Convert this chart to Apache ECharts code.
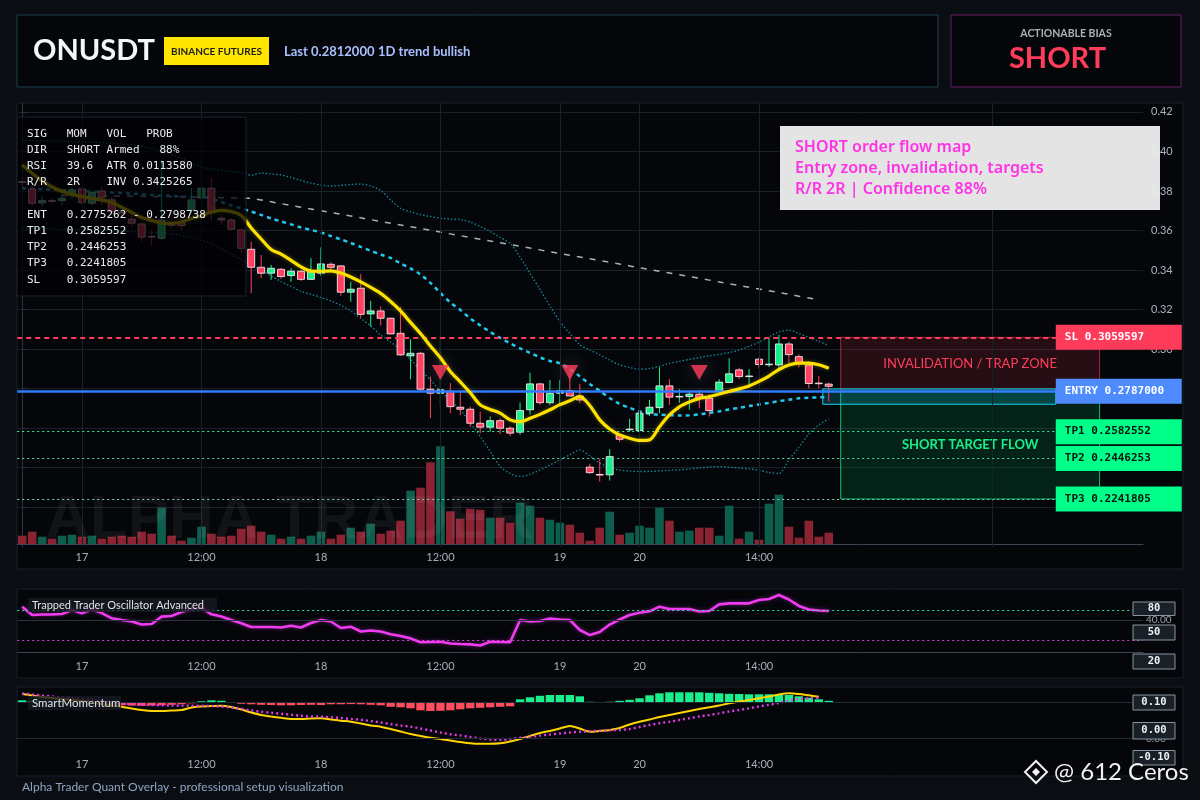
<!DOCTYPE html>
<html>
<head>
<meta charset="utf-8">
<script src="https://cdn.jsdelivr.net/npm/echarts@6/dist/echarts.min.js"></script>
<style>
html,body{margin:0;padding:0;background:#0a0d12;}
#c{width:1200px;height:800px;}
</style>
</head>
<body>
<div id="c"></div>
<script>
// ---------- DATA ----------
// hourly candles [open, close, low, high]
const candles = [
[0.3847,0.3843,0.3820,0.3870],[0.3810,0.3738,0.3725,0.3830],[0.3740,0.3751,0.3720,0.3775],[0.3751,0.3749,0.3735,0.3765],
[0.3751,0.3763,0.3725,0.3785],[0.3780,0.3805,0.3760,0.3818],[0.3810,0.3741,0.3730,0.3822],[0.3738,0.3791,0.3725,0.3800],
[0.3800,0.3768,0.3730,0.3820],[0.3755,0.3695,0.3680,0.3770],[0.3692,0.3688,0.3670,0.3705],[0.3657,0.3637,0.3620,0.3675],
[0.3633,0.3566,0.3545,0.3640],[0.3570,0.3568,0.3525,0.3600],[0.3561,0.3653,0.3550,0.3957],[0.3630,0.3627,0.3610,0.3645],
[0.3640,0.3625,0.3605,0.3660],[0.3704,0.3755,0.3690,0.3815],[0.3765,0.3814,0.3740,0.3957],[0.3814,0.3690,0.3650,0.3866],
[0.3662,0.3653,0.3630,0.3680],[0.3653,0.3606,0.3600,0.3665],[0.3603,0.3510,0.3485,0.3610],[0.3505,0.3414,0.3283,0.3544],
[0.3414,0.3384,0.3359,0.3476],[0.3384,0.3409,0.3350,0.3426],[0.3404,0.3367,0.3355,0.3410],[0.3372,0.3394,0.3340,0.3410],
[0.3394,0.3353,0.3345,0.3400],[0.3353,0.3394,0.3350,0.3460],[0.3384,0.3431,0.3372,0.3515],[0.3429,0.3414,0.3395,0.3440],
[0.3421,0.3288,0.3270,0.3425],[0.3288,0.3303,0.3240,0.3340],[0.3308,0.3176,0.3156,0.3380],[0.3178,0.3193,0.3114,0.3244],
[0.3193,0.3156,0.3120,0.3215],[0.3156,0.3077,0.3075,0.3160],[0.3080,0.2971,0.2966,0.3212],[0.2966,0.2979,0.2848,0.3050],
[0.2979,0.2797,0.2785,0.2987],[0.2797,0.2777,0.2651,0.2861],[0.2777,0.2794,0.2713,0.3072],[0.2787,0.2709,0.2676,0.2828],
[0.2706,0.2696,0.2666,0.2784],[0.2696,0.2625,0.2605,0.2709],[0.2625,0.2605,0.2575,0.2684],[0.2605,0.2638,0.2582,0.2660],
[0.2638,0.2600,0.2570,0.2650],[0.2600,0.2575,0.2560,0.2610],[0.2580,0.2689,0.2567,0.2730],[0.2693,0.2824,0.2670,0.2881],
[0.2824,0.2729,0.2718,0.2830],[0.2729,0.2777,0.2717,0.2844],[0.2777,0.2790,0.2717,0.2844],[0.2790,0.2763,0.2763,0.2886],
[0.2763,0.2743,0.2726,0.2824],[0.2403,0.2375,0.2369,0.2420],[0.2366,0.2364,0.2330,0.2443],[0.2364,0.2456,0.2335,0.2494],
[0.2566,0.2544,0.2530,0.2575],[0.2594,0.2595,0.2583,0.2647],[0.2588,0.2676,0.2578,0.2689],[0.2676,0.2706,0.2662,0.2743],
[0.2704,0.2814,0.2676,0.2908],[0.2814,0.2757,0.2718,0.2848],[0.2759,0.2761,0.2729,0.2797],[0.2760,0.2772,0.2693,0.2785],
[0.2772,0.2752,0.2701,0.2794],[0.2752,0.2689,0.2659,0.2773],[0.2785,0.2833,0.2768,0.2848],[0.2831,0.2875,0.2828,0.2954],
[0.2895,0.2861,0.2848,0.2906],[0.2864,0.2864,0.2819,0.2898],[0.2949,0.2922,0.2903,0.2959],[0.2924,0.2924,0.2910,0.3057],
[0.2920,0.3026,0.2900,0.3072],[0.3026,0.2972,0.2929,0.3038],[0.2962,0.2932,0.2908,0.2974],[0.2920,0.2826,0.2802,0.2937],
[0.2828,0.2827,0.2802,0.2864],[0.2823,0.2812,0.2735,0.2831]
];
const volume = [
83,123,73,53,83,93,73,83,53,73,
83,73,123,103,363,83,33,63,173,103,
73,83,153,183,123,93,53,73,53,83,
123,53,93,163,123,203,103,133,233,533,
563,817,977,327,253,353,343,263,263,213,
413,383,263,243,213,193,113,33,163,323,
93,113,183,163,363,233,123,133,163,163,
83,383,53,123,43,403,493,173,63,233,
73,113];
const emaFast = [
0.3932,0.3889,0.3851,0.3820,0.3798,0.3782,0.3772,0.3762,0.3755,0.3742,
0.3717,0.3691,0.3666,0.3651,0.3638,0.3636,0.3643,0.3661,0.3674,0.3694,
0.3702,0.3696,0.3676,0.3613,0.3557,0.3504,0.3481,0.3449,0.3416,0.3395,
0.3394,0.3396,0.3385,0.3365,0.3340,0.3312,0.3282,0.3241,0.3193,0.3135,
0.3079,0.3016,0.2956,0.2887,0.2834,0.2779,0.2718,0.2695,0.2676,0.2642,
0.2633,0.2650,0.2670,0.2693,0.2719,0.2739,0.2760,0.2715,0.2642,0.2596,
0.2566,0.2549,0.2538,0.2541,0.2607,0.2667,0.2708,0.2733,0.2751,0.2759,
0.2773,0.2786,0.2799,0.2814,0.2837,0.2864,0.2897,0.2920,0.2929,0.2929,
0.2921,0.2903];
const emaSlow = [
0.3814,0.3811,0.3809,0.3806,0.3804,0.3802,0.3800,0.3797,0.3795,0.3792,
0.3790,0.3787,0.3784,0.3781,0.3777,0.3775,0.3772,0.3770,0.3768,0.3760,
0.3744,0.3727,0.3712,0.3696,0.3679,0.3661,0.3646,0.3631,0.3615,0.3603,
0.3590,0.3572,0.3555,0.3537,0.3517,0.3497,0.3479,0.3461,0.3433,0.3408,
0.3378,0.3335,0.3284,0.3236,0.3198,0.3155,0.3120,0.3087,0.3057,0.3029,
0.3004,0.2981,0.2958,0.2940,0.2928,0.2900,0.2862,0.2824,0.2789,0.2753,
0.2723,0.2703,0.2685,0.2673,0.2668,0.2666,0.2664,0.2665,0.2670,0.2677,
0.2685,0.2695,0.2703,0.2712,0.2720,0.2728,0.2737,0.2744,0.2751,0.2754,
0.2756,0.2757];
const bandUpper = [
0.4058,0.4056,0.4054,0.4053,0.4051,0.4049,0.4048,0.4046,0.4044,0.4041,
0.4038,0.4033,0.4025,0.4015,0.4002,0.3987,0.3967,0.3942,0.3921,0.3911,
0.3904,0.3899,0.3894,0.3880,0.3890,0.3886,0.3881,0.3868,0.3853,0.3840,
0.3830,0.3825,0.3828,0.3833,0.3835,0.3825,0.3803,0.3755,0.3712,0.3694,
0.3681,0.3671,0.3662,0.3658,0.3655,0.3643,0.3620,0.3595,0.3565,0.3535,
0.3466,0.3383,0.3302,0.3218,0.3140,0.3079,0.3022,0.2996,0.2971,0.2945,
0.2920,0.2907,0.2898,0.2902,0.2913,0.2928,0.2938,0.2948,0.2957,0.2966,
0.2974,0.2983,0.2995,0.3014,0.3035,0.3062,0.3087,0.3096,0.3079,0.3059,
0.3039,0.3019];
const bandLower = [
0.3613,0.3611,0.3610,0.3608,0.3606,0.3604,0.3603,0.3601,0.3600,0.3598,
0.3596,0.3594,0.3593,0.3590,0.3588,0.3583,0.3575,0.3565,0.3552,0.3532,
0.3507,0.3479,0.3454,0.3426,0.3398,0.3370,0.3342,0.3317,0.3292,0.3277,
0.3261,0.3244,0.3221,0.3193,0.3155,0.3117,0.3072,0.3036,0.2998,0.2948,
0.2895,0.2844,0.2789,0.2738,0.2693,0.2627,0.2558,0.2483,0.2407,0.2371,
0.2356,0.2366,0.2389,0.2414,0.2440,0.2465,0.2490,0.2460,0.2423,0.2402,
0.2388,0.2383,0.2381,0.2381,0.2384,0.2387,0.2389,0.2394,0.2399,0.2404,
0.2406,0.2402,0.2399,0.2394,0.2387,0.2376,0.2371,0.2440,0.2503,0.2571,
0.2617,0.2647];
const trendLine = [
null,null,null,null,0.3777,0.3777,0.3776,0.3776,0.3775,0.3775,
0.3774,0.3774,0.3773,0.3772,0.3772,0.3771,0.3770,0.3769,0.3768,0.3767,
0.3766,0.3765,0.3764,0.3763,0.3754,0.3745,0.3736,0.3727,0.3718,0.3709,
0.3700,0.3691,0.3682,0.3673,0.3664,0.3655,0.3646,0.3637,0.3628,0.3619,
0.3610,0.3601,0.3592,0.3583,0.3574,0.3565,0.3556,0.3547,0.3538,0.3529,
0.3520,0.3511,0.3502,0.3493,0.3484,0.3475,0.3466,0.3457,0.3448,0.3439,
0.3430,0.3421,0.3412,0.3403,0.3394,0.3385,0.3376,0.3367,0.3358,0.3349,
0.3340,0.3331,0.3322,0.3313,0.3304,0.3295,0.3286,0.3277,0.3268,0.3259,
0.3250,null];
const oscValues = [
53.2,45.0,45.4,45.6,45.9,49.9,46.6,50.4,46.9,41.7,
40.0,38.5,35.5,36.0,43.3,44.0,47.9,50.9,52.2,45.6,
43.5,40.0,36.7,33.1,33.1,33.1,32.6,34.4,32.6,37.0,
40.0,38.5,32.1,33.4,28.6,29.6,28.6,25.8,24.2,21.8,
17.9,18.2,18.5,16.7,16.2,15.9,14.8,18.5,18.2,17.9,
40.0,38.5,39.0,41.5,40.5,40.0,30.1,25.1,28.1,35.5,
40.5,45.0,47.1,48.6,53.2,50.9,50.9,50.9,48.4,48.9,
55.5,56.5,56.5,56.5,59.8,60.8,64.8,60.3,53.9,50.4,
49.4,48.9];
const momLine = [
0.1231,0.1189,0.1147,0.1119,0.1092,0.1064,0.1036,0.0994,0.0953,0.0911,
0.0878,0.0828,0.0786,0.0758,0.0758,0.0772,0.0786,0.0856,0.0883,0.0897,
0.0906,0.0869,0.0800,0.0717,0.0647,0.0606,0.0569,0.0536,0.0536,0.0550,
0.0556,0.0522,0.0489,0.0461,0.0411,0.0356,0.0322,0.0258,0.0189,0.0119,
0.0064,0.0014,-0.0019,-0.0061,-0.0103,-0.0139,-0.0153,-0.0153,-0.0139,-0.0089,
-0.0019,0.0064,0.0147,0.0203,0.0272,0.0342,0.0272,0.0183,0.0203,0.0231,
0.0286,0.0383,0.0461,0.0522,0.0592,0.0647,0.0703,0.0758,0.0814,0.0861,
0.0911,0.0972,0.1022,0.1064,0.1111,0.1161,0.1217,0.1250,0.1231,0.1194,
0.1156];
const momSignal = [
0.1244,0.1217,0.1189,0.1161,0.1133,0.1111,0.1083,0.1056,0.1028,0.1000,
0.0972,0.0953,0.0939,0.0925,0.0917,0.0911,0.0908,0.0906,0.0903,0.0897,
0.0883,0.0856,0.0814,0.0772,0.0736,0.0708,0.0681,0.0653,0.0625,0.0606,
0.0600,0.0583,0.0564,0.0536,0.0514,0.0481,0.0439,0.0397,0.0356,0.0322,
0.0272,0.0217,0.0161,0.0111,0.0078,0.0036,-0.0006,-0.0033,-0.0047,-0.0019,
0.0014,0.0042,0.0075,0.0106,0.0133,0.0161,0.0183,0.0197,0.0211,0.0222,
0.0231,0.0258,0.0314,0.0369,0.0417,0.0461,0.0508,0.0556,0.0606,0.0647,
0.0694,0.0744,0.0786,0.0833,0.0883,0.0931,0.0981,0.1050,0.1092,0.1111,
0.1128];
// histogram in thousandths
const momHist = [
2,1.5,1,0.5,-0.5,-0.8,-1,-1.2,-1.5,-2,
-3,-3.3,-3.5,-3.3,-3,-2.5,-2,-1,1,2,
1.5,-0.5,-1.5,-2,-2.5,-2.7,-3,-3,-2.7,-2.5,
-2.7,-2,-2,-1.8,-2,-2.5,-3,-4.5,-5,-6,
-8,-8.7,-8.5,-8,-7,-6,-5.5,-5,-4.5,-4,
3,5,6.5,7.3,7.3,7.3,6,0.5,-0.5,0.5,
1.5,2.5,4,7,9,10,10,10,10,9.5,
9,8.5,8.3,8,8,8,8,7.3,6,4.5,
3,1.5];
const signalIdx = [42, 55, 68];
const signalPrice = [0.2882, 0.2882, 0.2882];
const tickIndex = [6, 18, 30, 42, 54, 62, 74];
const tickText = ['17', '12:00', '18', '12:00', '19', '20', '14:00'];
const futureGridIdx = [97.4];
const levelNames = ['SL', 'ENTRY', 'TP1', 'TP2', 'TP3'];
const levelValues = [0.3059597, 0.2787000, 0.2582552, 0.2446253, 0.2241805];
const entryBand = [0.2798738, 0.2721];
const zoneSpan = [82.2, 108.2];
const entryBandSpan = [80.4, 103.8];
const levelLineEnd = 103.8;
const priceTicks = [0.20, 0.4245];
const infoLines = [
'SIG   MOM   VOL   PROB',
'DIR   SHORT Armed   88%',
'RSI   39.6  ATR 0.0113580',
'R/R   2R    INV 0.3425265',
'',
'ENT   0.2775262 - 0.2798738',
'TP1   0.2582552',
'TP2   0.2446253',
'TP3   0.2241805',
'SL    0.3059597'];
const noteLines = ['SHORT order flow map', 'Entry zone, invalidation, targets', 'R/R 2R | Confidence 88%'];
const oscBoxes = ['80', '50', '20'];
const momBoxes = ['0.10', '0.00', '-0.10'];

// ---------- STYLE ----------
const UP = '#17f08a', DOWN = '#ff4060';
const SANS = 'Lato, "Noto Sans", sans-serif';
const MONO = '"DejaVu Sans Mono", monospace';
const XMIN = -0.5, XMAX = 112.56;
const GL = 17.2, GR = 57;

const pairs = arr => arr.map((v, i) => [i, v]);

function renderCandle(params, api) {
  const i = api.value(0), o = api.value(1), c = api.value(2), l = api.value(3), h = api.value(4);
  const pO = api.coord([i, o]), pC = api.coord([i, c]), pL = api.coord([i, l]), pH = api.coord([i, h]);
  const w = api.size([1, 0])[0] * 0.7;
  const col = c >= o ? UP : DOWN;
  const top = Math.min(pO[1], pC[1]), bot = Math.max(pO[1], pC[1]);
  return {
    type: 'group',
    children: [
      { type: 'line', shape: { x1: pH[0], y1: pH[1], x2: pL[0], y2: pL[1] }, style: { stroke: col, lineWidth: 1 } },
      { type: 'rect', shape: { x: pO[0] - w / 2, y: top, width: w, height: Math.max(bot - top, 0.6) },
        style: { fill: col, stroke: 'rgba(255,236,242,0.85)', lineWidth: 1 } }
    ]
  };
}

const xAxisLabel = (margin) => ({
  show: true, color: '#a6b0ba', fontSize: 11, fontFamily: SANS, margin: margin,
  customValues: tickIndex,
  formatter: v => { const k = tickIndex.indexOf(Math.round(v)); return k >= 0 ? tickText[k] : ''; }
});
const xBase = (grid) => ({ type: 'value', gridIndex: grid, min: XMIN, max: XMAX, splitLine: { show: false }, axisTick: { show: false } });

const levelStyles = [
  { line: { color: '#ff3d5a', width: 2, type: [5, 4] }, bg: '#ff3b5c', fg: '#ffffff' },
  { line: { color: '#2f7dff', width: 2.5, type: 'solid' }, bg: '#4d8bff', fg: '#ffffff' },
  { line: { color: '#2ef59a', width: 1.2, type: [2, 3] }, bg: '#00ff88', fg: '#07140d' },
  { line: { color: '#5fd8ae', width: 1.2, type: [2, 3] }, bg: '#00ff88', fg: '#07140d' },
  { line: { color: '#7ccfb0', width: 1.2, type: [2, 3] }, bg: '#00ff88', fg: '#07140d' }
];

const levelMarks = levelNames.map((n, k) => [
  { coord: [XMIN, levelValues[k]], lineStyle: levelStyles[k].line,
    label: { show: true, position: 'end', distance: 0, formatter: n + ' ' + levelValues[k].toFixed(7),
      backgroundColor: levelStyles[k].bg, color: levelStyles[k].fg, fontFamily: MONO, fontWeight: 'bold',
      fontSize: 11, padding: [7, 9, 7, 9], width: 108, align: 'left' } },
  { coord: [levelLineEnd, levelValues[k]] }
]);

// ---------- GRAPHICS ----------
const G = [];
const rect = (x, y, w, h, fill, stroke, z, lw) => G.push({ type: 'rect', shape: { x, y, width: w, height: h }, style: { fill, stroke, lineWidth: lw || 1 }, z, silent: true });
const text = (x, y, t, font, fill, align, z, extra) => G.push({ type: 'text', x, y, z, silent: true,
  style: Object.assign({ text: t, font, fill, align: align || 'left', verticalAlign: 'middle' }, extra || {}) });

rect(17, 15, 921, 72, '#04060a', '#18404c', -10);
rect(951, 15, 230, 72, '#04060a', '#6a1d62', -10);
rect(17, 103, 1166, 466, '#04060a', '#19212b', -10);
rect(17, 589, 1166, 89, '#04060a', '#19212b', -10);
rect(17, 687, 1166, 89, '#04060a', '#19212b', -10);

text(33, 51, 'ONUSDT', 'bold 29px ' + SANS, '#f4f7fa', 'left', 60, { shadowBlur: 10, shadowColor: 'rgba(120,200,230,0.35)' });
rect(164, 37, 105, 28, '#ffe600', null, 60, 0);
text(216.5, 51.5, 'BINANCE FUTURES', 'bold 10px ' + SANS, '#1b1b1b', 'center', 61);
text(284, 51.5, 'Last 0.2812000', 'bold 13px ' + SANS, '#a9c0ff', 'left', 60);
text(378, 51.5, '1D trend bullish', 'bold 13px ' + SANS, '#a9c0ff', 'left', 60);
text(1066, 34, 'ACTIONABLE BIAS', 'bold 10.5px ' + SANS, '#aeb0b8', 'center', 60);
text(1057.5, 58.5, 'SHORT', 'bold 29px ' + SANS, '#ff3d5a', 'center', 60, { shadowBlur: 14, shadowColor: 'rgba(255,50,80,0.55)' });

// info overlay
rect(17, 117, 229, 179, 'rgba(1,2,5,0.74)', '#1b232d', 50);
infoLines.forEach((t, k) => { if (t) text(27, 134 + 16.2 * k, t, '11px ' + MONO, '#e9ecef', 'left', 51); });

// note box
rect(780, 126, 380, 84, 'rgba(240,240,241,0.95)', null, 50, 0);
noteLines.forEach((t, k) => text(795, 147 + 21 * k, t, '600 16px "Noto Sans", sans-serif', '#ff33e6', 'left', 51));

// watermark over volume
text(45, 521, 'ALPHA TRADER', 'bold 62px "Liberation Sans", sans-serif', 'rgba(255,255,255,0.055)', 'left', 40);

// panel titles
rect(28, 598, 189, 14, 'rgba(22,26,33,0.8)', null, 60, 0);
text(32, 605, 'Trapped Trader Oscillator Advanced', '11px ' + SANS, '#dfe3e8', 'left', 61);
rect(28, 696, 93, 14, 'rgba(22,26,33,0.8)', null, 60, 0);
text(32, 703, 'SmartMomentum', '11.5px ' + SANS, '#dfe3e8', 'left', 61);

// right boxes
const oscBoxY = [[602, 13.5], [625, 15], [654, 15]];
oscBoxes.forEach((t, k) => { rect(1133, oscBoxY[k][0], 42, oscBoxY[k][1], '#1a2028', '#8994a0', 60);
  text(1154, oscBoxY[k][0] + oscBoxY[k][1] / 2, t, 'bold 10.5px ' + MONO, '#eef1f4', 'center', 61); });
const momBoxY = [[695, 15], [722.5, 16.5], [750.5, 14.5]];
momBoxes.forEach((t, k) => { rect(1133, momBoxY[k][0], 42, momBoxY[k][1], '#1a2028', '#8994a0', 60);
  text(1154, momBoxY[k][0] + momBoxY[k][1] / 2, t, 'bold 10.5px ' + MONO, '#eef1f4', 'center', 61); });

// footer
text(22, 787, 'Alpha Trader Quant Overlay - professional setup visualization', '12px ' + SANS, '#8ea5c2', 'left', 60);
text(1054, 772, '@ 612 Ceros', '24px ' + SANS, '#f2f2f2', 'left', 60, { stroke: 'rgba(0,0,0,0.7)', lineWidth: 1 });
G.push({ type: 'polygon', z: 60, silent: true, shape: { points: [[1036, 761], [1047, 772], [1036, 783], [1025, 772]] }, style: { fill: 'none', stroke: '#f2f2f2', lineWidth: 2 } });
G.push({ type: 'polygon', z: 60, silent: true, shape: { points: [[1036, 768], [1040, 772], [1036, 776], [1032, 772]] }, style: { fill: '#f2f2f2' } });

// ---------- OPTION ----------
const option = {
  backgroundColor: 'transparent',
  animation: false,
  grid: [
    { left: GL, right: GR, top: 103, bottom: 253.2 },
    { left: GL, right: GR, top: 400, bottom: 256 },
    { left: GL, right: GR, top: 589, bottom: 147.7 },
    { left: GL, right: GR, top: 686.7, bottom: 50 }
  ],
  xAxis: [
    Object.assign(xBase(0), { show: false }),
    Object.assign(xBase(1), { axisLine: { show: true, lineStyle: { color: '#3a4452' } }, axisLabel: xAxisLabel(8) }),
    Object.assign(xBase(2), { axisLine: { show: true, lineStyle: { color: '#3a4452' } }, axisLabel: xAxisLabel(9) }),
    Object.assign(xBase(3), { axisLine: { show: true, lineStyle: { color: '#3a4452' } }, axisLabel: xAxisLabel(8.5) })
  ],
  yAxis: [
    { type: 'value', gridIndex: 0, position: 'right', min: priceTicks[0], max: priceTicks[1], interval: 0.02,
      axisLine: { show: true, lineStyle: { color: '#2a3443' } },
      axisTick: { show: true, length: 4, lineStyle: { color: '#2a3443' } },
      axisLabel: { color: '#aab3bd', fontSize: 11, fontFamily: SANS, margin: 8, showMinLabel: false, showMaxLabel: false, formatter: v => v.toFixed(2) },
      splitLine: { show: true, showMinLine: false, showMaxLine: false, lineStyle: { color: '#19212a', width: 1 } } },
    { type: 'value', gridIndex: 1, min: 0, max: 1440, show: false },
    { type: 'value', gridIndex: 2, min: 8.02, max: 70.69, show: false },
    { type: 'value', gridIndex: 3, min: -0.0325, max: 0.1433, show: false },
    { type: 'value', gridIndex: 3, min: -47.7, max: 15.6, show: false }
  ],
  graphic: { elements: G },
  series: [
    { name: 'vgrid', type: 'line', xAxisIndex: 0, yAxisIndex: 0, data: [], z: 1, silent: true,
      markLine: { silent: true, symbol: ['none', 'none'], label: { show: false },
        lineStyle: { color: '#14232c', width: 1, type: 'solid' },
        data: tickIndex.concat(futureGridIdx).map(v => ({ xAxis: v })) } },
    { name: 'zones', type: 'line', xAxisIndex: 0, yAxisIndex: 0, data: [], z: 1, silent: true,
      markArea: { silent: true, data: [
        [ { coord: [zoneSpan[0], levelValues[0]], itemStyle: { color: 'rgba(255,61,90,0.14)', borderColor: 'rgba(255,61,90,0.6)', borderWidth: 1 },
            label: { show: true, position: 'inside', formatter: 'INVALIDATION / TRAP ZONE', color: '#ff3d5a', fontSize: 13, fontFamily: SANS } },
          { coord: [zoneSpan[1], levelValues[1]] } ],
        [ { coord: [zoneSpan[0], levelValues[1]], itemStyle: { color: 'rgba(0,230,120,0.13)', borderColor: 'rgba(25,220,130,0.85)', borderWidth: 1 },
            label: { show: true, position: 'inside', formatter: 'SHORT TARGET FLOW', color: '#19f08a', fontSize: 13, fontWeight: 'bold', fontFamily: SANS } },
          { coord: [zoneSpan[1], levelValues[4]] } ],
        [ { coord: [entryBandSpan[0], entryBand[0]], itemStyle: { color: 'rgba(0,190,215,0.22)', borderColor: '#19d0f0', borderWidth: 1 }, label: { show: false } },
          { coord: [entryBandSpan[1], entryBand[1]] } ]
      ] } },
    { name: 'Upper band', type: 'line', xAxisIndex: 0, yAxisIndex: 0, data: pairs(bandUpper), z: 2, showSymbol: false, smooth: 0.3,
      lineStyle: { color: '#178a9a', width: 1.3, type: [1.5, 2] } },
    { name: 'Lower band', type: 'line', xAxisIndex: 0, yAxisIndex: 0, data: pairs(bandLower), z: 2, showSymbol: false, smooth: 0.3,
      lineStyle: { color: '#178a9a', width: 1.3, type: [1.5, 2] } },
    { name: 'Trend', type: 'line', xAxisIndex: 0, yAxisIndex: 0, data: pairs(trendLine), z: 2, showSymbol: false, connectNulls: false,
      lineStyle: { color: '#c9ced4', width: 1.5, type: [6, 7], opacity: 0.85 } },
    { name: 'levels', type: 'line', xAxisIndex: 0, yAxisIndex: 0, data: [], z: 3, silent: true,
      markLine: { silent: true, symbol: ['none', 'none'], data: levelMarks } },
    { name: 'Slow MA', type: 'line', xAxisIndex: 0, yAxisIndex: 0, data: pairs(emaSlow), z: 3, showSymbol: false, smooth: 0.3,
      lineStyle: { color: '#22c8ee', width: 2.5, type: [4, 4] } },
    { name: 'Candles', type: 'custom', xAxisIndex: 0, yAxisIndex: 0, z: 4, renderItem: renderCandle,
      encode: { x: 0, y: [1, 2, 3, 4] }, data: candles.map((d, i) => [i, d[0], d[1], d[2], d[3]]) },
    { name: 'Fast MA', type: 'line', xAxisIndex: 0, yAxisIndex: 0, data: pairs(emaFast), z: 5, showSymbol: false, smooth: 0.3,
      lineStyle: { color: '#ffe100', width: 3.2, shadowBlur: 4, shadowColor: 'rgba(255,225,0,0.35)' } },
    { name: 'Signals', type: 'scatter', xAxisIndex: 0, yAxisIndex: 0, z: 6, symbol: 'triangle', symbolRotate: 180, symbolSize: [17, 15],
      itemStyle: { color: '#ff3d5a', shadowBlur: 18, shadowColor: 'rgba(220,220,235,0.35)' },
      data: signalIdx.map((v, k) => [v, signalPrice[k]]) },
    { name: 'Volume', type: 'bar', xAxisIndex: 1, yAxisIndex: 1, barWidth: 8.6, z: 2,
      data: volume.map((v, i) => ({ value: [i, v], itemStyle: { color: candles[i][1] >= candles[i][0] ? '#0e5e4d' : '#8c2333' } })) },
    { name: 'Trapped Trader', type: 'line', xAxisIndex: 2, yAxisIndex: 2, data: pairs(oscValues), showSymbol: false, z: 3,
      lineStyle: { color: '#f03cf0', width: 2.6, shadowBlur: 4, shadowColor: 'rgba(240,60,240,0.4)' },
      markLine: { silent: true, symbol: ['none', 'none'], data: [
        { yAxis: 50, lineStyle: { color: '#2ee39a', type: [2, 3], width: 1 }, label: { show: false } },
        { yAxis: 20, lineStyle: { color: '#d83cd8', type: [2, 3], width: 1 }, label: { show: false } },
        { yAxis: 40, lineStyle: { color: '#2a323c', type: 'solid', width: 1 },
          label: { show: true, position: 'end', distance: 3, formatter: '40.00', color: '#9aa4ae', fontSize: 10, fontFamily: SANS } }
      ] } },
    { name: 'Momentum hist', type: 'bar', xAxisIndex: 3, yAxisIndex: 4, barWidth: 8.4, z: 2,
      data: momHist.map((v, i) => ({ value: [i, v], itemStyle: { color: v >= 0 ? '#19ef8c' : '#ff4d5e' } })) },
    { name: 'SmartMomentum', type: 'line', xAxisIndex: 3, yAxisIndex: 3, data: pairs(momLine), showSymbol: false, z: 4, smooth: 0.3,
      lineStyle: { color: '#ffd400', width: 2 },
      markLine: { silent: true, symbol: ['none', 'none'], lineStyle: { color: '#222b35', type: 'solid', width: 1 },
        label: { show: true, position: 'end', distance: 3, color: '#9aa4ae', fontSize: 10, fontFamily: SANS },
        data: [ { yAxis: 0.10, label: { formatter: '0.10' } }, { yAxis: 0.0, label: { formatter: '0.00' } } ] } },
    { name: 'Signal', type: 'line', xAxisIndex: 3, yAxisIndex: 3, data: pairs(momSignal), showSymbol: false, z: 4, smooth: 0.3,
      lineStyle: { color: '#e23be8', width: 2.4, type: [2, 3] } }
  ]
};

const chart = echarts.init(document.getElementById('c'), null, { renderer: 'canvas', width: 1200, height: 800 });
chart.setOption(option);
</script>
</body>
</html>
